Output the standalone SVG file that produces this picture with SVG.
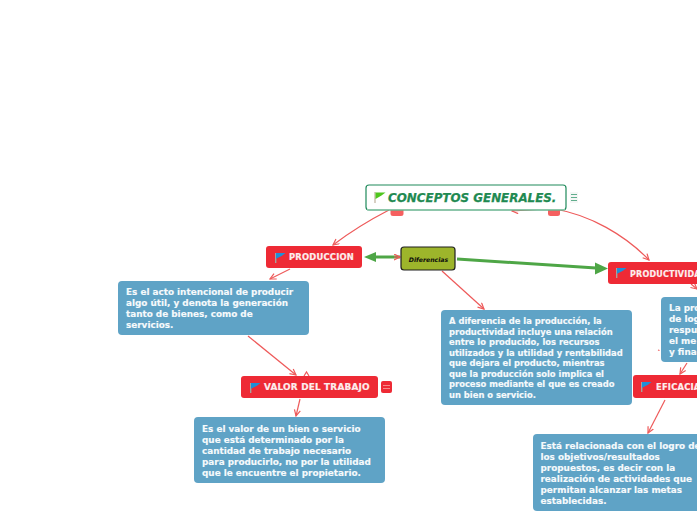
<svg xmlns="http://www.w3.org/2000/svg" width="697" height="520" viewBox="0 0 697 520">
<defs>
<marker id="a" markerWidth="8" markerHeight="8" refX="6.5" refY="3.5" orient="auto" markerUnits="userSpaceOnUse"><path d="M0.5 0.5L6.5 3.5L0.5 6.5" fill="none" stroke="#ee5a5a" stroke-width="1.2"/></marker>
<g id="flagB"><rect x="0" y="0" width="1.4" height="10" fill="#a9a19c"/><path d="M1 0H10.500L7 2.700L1 5.800Z" fill="#1f8fd8"/></g>
<g id="flagG"><rect x="0" y="0" width="2" height="11" fill="#d8d0c4"/><path d="M1.500 0.500H11.500L7.500 3.500L1.500 7Z" fill="#4fc61e"/></g>
</defs>
<style>
text{font-family:"DejaVu Sans",Verdana,sans-serif;font-weight:700}
.r{fill:#ee2a35}
.b{fill:#5fa3c6}
.h{font-size:8.9px;fill:#fdeeee;letter-spacing:.2px;stroke:#fdeeee;stroke-width:.2px}
.hs{font-size:8.4px}
.hx{font-size:8px}
.t{font-size:8.85px;fill:#f6fafc;stroke:#f6fafc;stroke-width:.15px}
.s{font-size:8.4px}
.c{fill:none;stroke:#ee5a5a;stroke-width:1.2;marker-end:url(#a)}
.g{fill:none;stroke:#4ea646;stroke-width:3}
.gh{fill:#4ea646}
.p{fill:#f56060}
</style>
<rect width="697" height="520" fill="#fff"/>
<g id="connectors">
<path class="c" d="M389 210Q358 226 333 245"/>
<path class="c" d="M555 209C590 215 625 235 649 260"/>
<path class="c" d="M545 209Q530 210 512 211"/>
<path class="c" d="M290 269L270 279"/>
<path class="c" d="M248 336L296 375"/>
<path fill="none" stroke="#ee5a5a" stroke-width="1.2" d="M304 376L306.500 372L309 376"/>
<path class="c" d="M300 399L296 416"/>
<path class="c" d="M442 271L484 309"/>
<path class="c" d="M691 284L697 289"/>
<path class="c" d="M687 363L680 374"/>
<path class="c" d="M665 400L648 433"/>
<path fill="none" stroke="#ee5a5a" stroke-width="1.2" d="M658 350L659.500 350.500"/>
<path class="g" d="M400 257H376"/><path class="gh" d="M364 257L376 252V262Z"/>
<path class="c" d="M394 257L400 257"/>
<path class="g" d="M457 259L596 268"/><path class="gh" d="M608 268.500L595 262.500L595 274.500Z"/>
</g>
<g id="node-conceptos">
<rect x="390.500" y="206" width="13" height="10" rx="2.500" class="p"/>
<rect x="548" y="206" width="12" height="10" rx="2.500" class="p"/>
<rect x="366" y="185" width="200" height="25" rx="3" fill="#fff" stroke="#1f8a5b" stroke-width="1.200"/>
<path d="M367 209.700H565" stroke="#8cc7aa" stroke-width="1.500"/>
<use href="#flagG" x="374" y="192"/>
<text x="388" y="202" font-size="11.900" font-style="italic" fill="#1f8a52" stroke="#1f8a52" stroke-width="0.250">CONCEPTOS GENERALES.</text>
<rect x="570" y="192" width="8" height="11" fill="#f5f7f6"/>
<path d="M571 194.500H577M571 197.500H577M571 200.500H577" stroke="#3c9a74" stroke-width="0.800"/>
</g>
<g id="node-diferencias">
<rect x="401" y="247" width="54" height="23" rx="3" fill="#9db52b" stroke="#1f1f1f" stroke-width="1.200"/>
<text x="428.500" y="262" font-size="6.200" font-style="italic" fill="#0c0c0c" text-anchor="middle">Diferencias</text>
</g>
<g id="node-produccion">
<rect class="r" x="266" y="246" width="96" height="22" rx="3"/>
<use href="#flagB" x="275" y="253"/>
<text class="h hs" x="289" y="260">PRODUCCION</text>
</g>
<g id="node-produccion-text">
<rect class="b" x="118" y="281" width="191" height="54" rx="4"/>
<text class="t" x="126" y="295">Es el acto intencional de producir</text>
<text class="t" x="126" y="306">algo útil, y denota la generación</text>
<text class="t" x="126" y="317">tanto de bienes, como de</text>
<text class="t" x="126" y="328">servicios.</text>
</g>
<g id="node-valor">
<rect class="r" x="241" y="376" width="137" height="22" rx="3"/>
<use href="#flagB" x="250" y="383"/>
<text class="h" x="264" y="390">VALOR DEL TRABAJO</text>
<rect class="r" x="381" y="381" width="11" height="12" rx="2"/>
<path d="M383 385.500H390M383 388.500H390" stroke="#f78a8a" stroke-width="1"/>
</g>
<g id="node-valor-text">
<rect class="b" x="194" y="417" width="191" height="66" rx="4"/>
<text class="t" x="202" y="432">Es el valor de un bien o servicio</text>
<text class="t" x="202" y="443">que está determinado por la</text>
<text class="t" x="202" y="454">cantidad de trabajo necesario</text>
<text class="t" x="202" y="465">para producirlo, no por la utilidad</text>
<text class="t" x="202" y="476">que le encuentre el propietario.</text>
</g>
<g id="node-diferencia-text">
<rect class="b" x="441" y="310" width="191" height="95" rx="4"/>
<text class="t s" x="449" y="324">A diferencia de la producción, la</text>
<text class="t s" x="449" y="335">productividad incluye una relación</text>
<text class="t s" x="449" y="345">entre lo producido, los recursos</text>
<text class="t s" x="449" y="356">utilizados y la utilidad y rentabilidad</text>
<text class="t s" x="449" y="366">que dejara el producto, mientras</text>
<text class="t s" x="449" y="377">que la producción solo implica el</text>
<text class="t s" x="449" y="387">proceso mediante el que es creado</text>
<text class="t s" x="449" y="398">un bien o servicio.</text>
</g>
<g id="node-productividad">
<rect class="r" x="608" y="262" width="110" height="22" rx="3"/>
<use href="#flagB" x="616" y="268"/>
<text class="h hx" x="630" y="277">PRODUCTIVIDAD</text>
</g>
<g id="node-productividad-text">
<rect class="b" x="661" y="297" width="60" height="65" rx="4"/>
<text class="t" x="669" y="311">La pro</text>
<text class="t" x="669" y="322">de log</text>
<text class="t" x="669" y="333">respu</text>
<text class="t" x="669" y="344">el me</text>
<text class="t" x="669" y="355">y fina</text>
</g>
<g id="node-eficacia">
<rect class="r" x="633" y="375" width="80" height="23" rx="3"/>
<use href="#flagB" x="641" y="382"/>
<text class="h hs" x="656" y="390">EFICACIA</text>
</g>
<g id="node-eficacia-text">
<rect class="b" x="533" y="434" width="180" height="77" rx="4"/>
<text class="t" x="540.500" y="449">Está relacionada con el logro de</text>
<text class="t" x="540.500" y="460">los objetivos/resultados</text>
<text class="t" x="540.500" y="471">propuestos, es decir con la</text>
<text class="t" x="540.500" y="482">realización de actividades que</text>
<text class="t" x="540.500" y="493">permitan alcanzar las metas</text>
<text class="t" x="540.500" y="504">establecidas.</text>
</g>
</svg>
